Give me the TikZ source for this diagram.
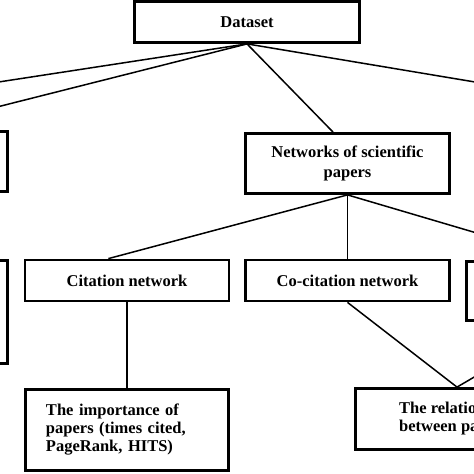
\documentclass[tikz,border=0pt]{standalone}
\usepackage{fontspec}
\setmainfont{Liberation Serif}
\usetikzlibrary{calc}
\begin{document}
\begin{tikzpicture}[x=1bp,y=-1bp,
  box/.style={draw,line width=2.8bp,inner sep=0pt,align=center,
    font=\fontsize{16.5bp}{18bp}\selectfont\bfseries},
  link/.style={line width=1.5bp}]
\useasboundingbox (0,0) rectangle (474,474);
\clip (0,0) rectangle (474,474);
\fill[white] (0,0) rectangle (474,474);
\node[box,minimum width=225bp,minimum height=41bp] (data) at (247,22) {Dataset};
\node[box,minimum width=204bp,minimum height=60bp] (left1) at (-94.5,161.5) {};
\node[box,minimum width=204bp,minimum height=103bp] (left2) at (-94.5,312) {};
\node[box,minimum width=204bp,minimum height=60bp,
  font=\fontsize{16.5bp}{20bp}\selectfont\bfseries] (net) at (347.5,163.5) {Networks of scientific\\papers};
\node[box,minimum width=204bp,minimum height=41bp] (cit) at (127,280.5) {Citation network};
\node[box,minimum width=204bp,minimum height=41bp] (cocit) at (347.5,280.5) {Co-citation network};
\node[box,minimum width=204bp,minimum height=59bp] (right) at (568.5,291) {};
\node[box,minimum width=203bp,minimum height=81bp,text width=162bp,align=left] (imp) at (127,430)
  {The importance of\\papers (times cited,\\PageRank, HITS)};
\node[box,minimum width=203bp,minimum height=61bp,align=left] (rel) at (457,419)
  {The relationship\\between papers};
\coordinate (farL) at (-324,131.5);
\coordinate (farR) at (771,131.5);
\draw[link] (data.south) -- (farL);
\draw[link] (data.south) -- (left1.north);
\draw[link] (data.south) -- ($(net.north west)!0.43!(net.north east)$);
\draw[link] (data.south) -- (farR);
\draw[link] (net.south) -- ($(cit.north west)!0.41!(cit.north east)$);
\draw[link] (net.south) -- (cocit.north);
\draw[link] (net.south) -- (right.north);
\draw[link] (cit.south) -- (imp.north);
\draw[link] (cocit.south) -- (rel.north);
\draw[link] (right.south) -- (rel.north);
\end{tikzpicture}
\end{document}
